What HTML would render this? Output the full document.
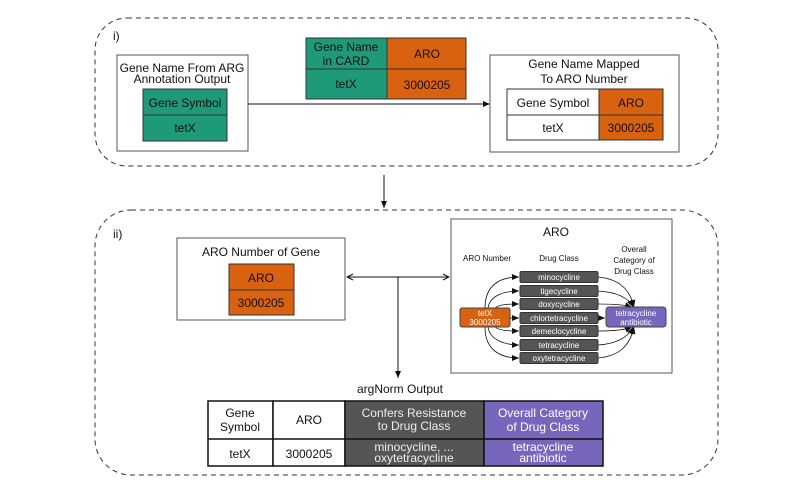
<!DOCTYPE html>
<html><head><meta charset="utf-8"><style>
html,body{margin:0;padding:0;background:#fff}
svg{display:block}
text{font-family:"Liberation Sans",Arial,sans-serif;fill:#111}
</style></head><body>
<svg width="812" height="494" viewBox="0 0 812 494" xmlns="http://www.w3.org/2000/svg">
<defs>
<marker id="a" markerWidth="8" markerHeight="8" refX="7" refY="4" orient="auto" markerUnits="userSpaceOnUse"><path d="M0,1 L7,4 L0,7 z" fill="#111"/></marker>
<marker id="o" markerWidth="8" markerHeight="8" refX="7" refY="4" orient="auto" markerUnits="userSpaceOnUse"><path d="M1,1 L7,4 L1,7" fill="none" stroke="#111"/></marker>
<marker id="os" markerWidth="8" markerHeight="8" refX="1" refY="4" orient="auto" markerUnits="userSpaceOnUse"><path d="M7,1 L1,4 L7,7" fill="none" stroke="#111"/></marker>
</defs>
<!-- top dashed -->
<rect x="95" y="18" width="623" height="148" rx="32" fill="none" stroke="#333" stroke-dasharray="5,4"/>
<text x="113" y="40" font-size="12">i)</text>
<!-- left box -->
<rect x="117" y="55" width="131" height="96" fill="#fff" stroke="#555"/>
<text x="182" y="72" font-size="12" text-anchor="middle">Gene Name From ARG</text>
<text x="182" y="83" font-size="12" text-anchor="middle">Annotation Output</text>
<rect x="143" y="89" width="84" height="52" fill="#1f9a78" stroke="#333"/>
<line x1="143" y1="115" x2="227" y2="115" stroke="#333"/>
<text x="185" y="107" font-size="12" text-anchor="middle">Gene Symbol</text>
<text x="185" y="132" font-size="12" text-anchor="middle">tetX</text>
<!-- CARD table -->
<rect x="306" y="38" width="81" height="61" fill="#1f9a78" stroke="#333"/>
<rect x="387" y="38" width="79" height="61" fill="#d8620f" stroke="#333"/>
<line x1="306" y1="69" x2="466" y2="69" stroke="#333"/>
<text x="346" y="51" font-size="12" text-anchor="middle">Gene Name</text>
<text x="346" y="65" font-size="12" text-anchor="middle">in CARD</text>
<text x="427" y="58" font-size="12" text-anchor="middle">ARO</text>
<text x="346" y="88" font-size="12" text-anchor="middle">tetX</text>
<text x="427" y="89" font-size="12" text-anchor="middle">3000205</text>
<line x1="248" y1="104" x2="490" y2="104" stroke="#111" marker-end="url(#a)"/>
<!-- right box -->
<rect x="490" y="55" width="189" height="97" fill="#fff" stroke="#555"/>
<text x="584" y="68" font-size="12" text-anchor="middle">Gene Name Mapped</text>
<text x="584" y="83" font-size="12" text-anchor="middle">To ARO Number</text>
<rect x="507" y="89" width="92" height="51" fill="#fff" stroke="#333"/>
<rect x="599" y="89" width="64" height="51" fill="#d8620f" stroke="#333"/>
<line x1="507" y1="115" x2="663" y2="115" stroke="#333"/>
<text x="553" y="107" font-size="12" text-anchor="middle">Gene Symbol</text>
<text x="631" y="107" font-size="12" text-anchor="middle">ARO</text>
<text x="553" y="132" font-size="12" text-anchor="middle">tetX</text>
<text x="631" y="132" font-size="12" text-anchor="middle">3000205</text>
<line x1="384" y1="175" x2="384" y2="208" stroke="#111" marker-end="url(#a)"/>
<!-- bottom dashed -->
<rect x="95" y="210" width="623" height="265" rx="36" fill="none" stroke="#333" stroke-dasharray="5,4"/>
<text x="113" y="238" font-size="12">ii)</text>
<rect x="177" y="238" width="168" height="82" fill="#fff" stroke="#555"/>
<text x="261" y="256" font-size="12" text-anchor="middle">ARO Number of Gene</text>
<rect x="229" y="264" width="65" height="51" fill="#d8620f" stroke="#333"/>
<line x1="229" y1="290" x2="294" y2="290" stroke="#333"/>
<text x="261" y="282" font-size="12" text-anchor="middle">ARO</text>
<text x="261" y="307" font-size="12" text-anchor="middle">3000205</text>
<line x1="347" y1="277" x2="449" y2="277" stroke="#111" marker-start="url(#os)" marker-end="url(#o)"/>
<line x1="398" y1="277" x2="398" y2="378" stroke="#111" marker-end="url(#a)"/>
<!-- ARO box -->
<rect x="451" y="219" width="221" height="154" fill="#fff" stroke="#555"/>
<text x="556" y="236" font-size="12" text-anchor="middle">ARO</text>
<text x="487" y="261" font-size="8" text-anchor="middle">ARO Number</text>
<text x="559" y="261" font-size="8" text-anchor="middle">Drug Class</text>
<text x="634" y="252" font-size="8" text-anchor="middle">Overall</text>
<text x="634" y="263" font-size="8" text-anchor="middle">Category of</text>
<text x="634" y="274" font-size="8" text-anchor="middle">Drug Class</text>
<g stroke="#111" fill="none" stroke-width="0.8">
<path d="M485,308 C485,285 500,277 519,277" marker-end="url(#a)"/>
<path d="M488,308 C490,295 505,291 519,291" marker-end="url(#a)"/>
<path d="M495,308 C500,304 510,304 519,304" marker-end="url(#a)"/>
<path d="M510,318 L519,318" marker-end="url(#a)"/>
<path d="M495,327 C500,331 510,331 519,331" marker-end="url(#a)"/>
<path d="M488,327 C490,340 505,345 519,345" marker-end="url(#a)"/>
<path d="M485,327 C485,350 500,358 519,358" marker-end="url(#a)"/>
<path d="M598,277 C620,279 630,290 634,307" marker-end="url(#a)"/>
<path d="M598,291 C615,292 628,297 633,307" marker-end="url(#a)"/>
<path d="M598,304 C612,304 625,305 632,307" marker-end="url(#a)"/>
<path d="M598,318 L605,318" marker-end="url(#a)"/>
<path d="M598,331 C612,331 625,330 632,327" marker-end="url(#a)"/>
<path d="M598,345 C615,344 628,338 633,327" marker-end="url(#a)"/>
<path d="M598,358 C620,356 630,345 634,327" marker-end="url(#a)"/>
</g>
<rect x="460" y="308" width="50" height="19" rx="2" fill="#d8620f" stroke="#444"/>
<text x="485" y="316" font-size="8" fill="#fff" text-anchor="middle" style="fill:#fff">tetX</text>
<text x="485" y="325" font-size="8" text-anchor="middle" style="fill:#fff">3000205</text>
<g font-size="8" text-anchor="middle">
<rect x="520" y="271.5" width="78" height="11" rx="1.5" fill="#555" stroke="#333"/><text x="559" y="280" style="fill:#fff">minocycline</text>
<rect x="520" y="285.5" width="78" height="11" rx="1.5" fill="#555" stroke="#333"/><text x="559" y="294" style="fill:#fff">tigecycline</text>
<rect x="520" y="298.5" width="78" height="11" rx="1.5" fill="#555" stroke="#333"/><text x="559" y="307" style="fill:#fff">doxycycline</text>
<rect x="520" y="312.5" width="78" height="11" rx="1.5" fill="#555" stroke="#333"/><text x="559" y="321" style="fill:#fff">chlortetracycline</text>
<rect x="520" y="325.5" width="78" height="11" rx="1.5" fill="#555" stroke="#333"/><text x="559" y="334" style="fill:#fff">demeclocycline</text>
<rect x="520" y="339.5" width="78" height="11" rx="1.5" fill="#555" stroke="#333"/><text x="559" y="348" style="fill:#fff">tetracycline</text>
<rect x="520" y="352.5" width="78" height="11" rx="1.5" fill="#555" stroke="#333"/><text x="559" y="361" style="fill:#fff">oxytetracycline</text>
</g>
<rect x="606" y="307" width="60" height="20" rx="3" fill="#7766bb" stroke="#444"/>
<text x="636" y="316" font-size="8" text-anchor="middle" style="fill:#fff">tetracycline</text>
<text x="636" y="325" font-size="8" text-anchor="middle" style="fill:#fff">antibiotic</text>
<!-- output -->
<text x="400" y="393" font-size="12" text-anchor="middle">argNorm Output</text>
<rect x="208" y="401" width="65" height="65" fill="#fff" stroke="#111" stroke-width="1.5"/>
<rect x="273" y="401" width="72" height="65" fill="#fff" stroke="#111" stroke-width="1.5"/>
<rect x="345" y="401" width="139" height="65" fill="#555" stroke="#111" stroke-width="1.5"/>
<rect x="484" y="401" width="119" height="65" fill="#7766bb" stroke="#111" stroke-width="1.5"/>
<line x1="208" y1="439" x2="603" y2="439" stroke="#111" stroke-width="1.5"/>
<g font-size="12" text-anchor="middle">
<text x="240" y="417">Gene</text><text x="240" y="431">Symbol</text>
<text x="309" y="424">ARO</text>
<text x="414" y="417" style="fill:#eee">Confers Resistance</text><text x="414" y="430" style="fill:#eee">to Drug Class</text>
<text x="543" y="417" style="fill:#fff">Overall Category</text><text x="543" y="431" style="fill:#fff">of Drug Class</text>
<text x="240" y="458">tetX</text>
<text x="309" y="458">3000205</text>
<text x="414" y="451" style="fill:#eee">minocycline, ...</text><text x="414" y="462" style="fill:#eee">oxytetracycline</text>
<text x="543" y="451" style="fill:#fff">tetracycline</text><text x="543" y="462" style="fill:#fff">antibiotic</text>
</g>
</svg>
</body></html>
